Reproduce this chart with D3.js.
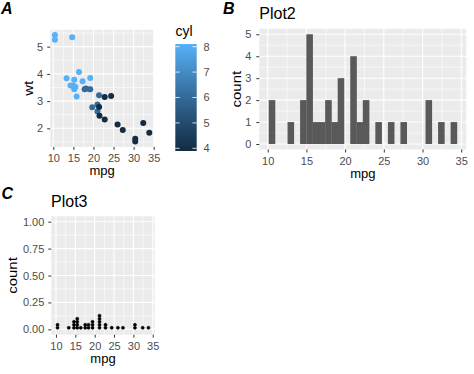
<!DOCTYPE html>
<html><head><meta charset="utf-8">
<script src="https://cdn.jsdelivr.net/npm/d3@7"></script>
<style>
body{margin:0;background:#fff;}
text{font-family:"Liberation Sans",Arial,sans-serif;}
</style></head>
<body><svg id="c" width="474" height="374"></svg>
<script>
// ---- data (mtcars) ----
const mpg = [21.0,21.0,22.8,21.4,18.7,18.1,14.3,24.4,22.8,19.2,17.8,16.4,17.3,15.2,10.4,10.4,14.7,32.4,30.4,33.9,21.5,15.5,15.2,13.3,19.2,27.3,26.0,30.4,15.8,19.7,15.0,21.4];
const wt  = [2.620,2.875,2.320,3.215,3.440,3.460,3.570,3.190,3.150,3.440,3.440,4.070,3.730,3.780,5.250,5.424,5.345,2.200,1.615,1.835,2.465,3.520,3.435,3.840,3.845,1.935,2.140,1.513,3.170,2.770,3.570,2.780];
const cyl = [6,6,4,6,8,6,8,4,4,6,6,8,8,8,8,8,8,4,4,4,4,8,8,8,8,4,4,4,8,6,8,4];
// histogram (30 bins)
const histStart = 10.129;
const histWidth = 0.81034;
const histCounts = [2,0,0,1,0,2,5,1,1,2,1,3,0,4,1,2,0,1,0,1,0,1,0,0,0,2,0,1,0,1];
// dotplot bins
const dotBinwidth = 0.78333;
const dotCenters = [10.4,13.3,14.65,15.5,16.4,17.55,18.4,19.45,21.25,22.8,24.4,26.0,27.3,30.4,32.4,33.9];
const dotCounts  = [2,1,3,4,1,2,2,3,5,2,1,1,1,2,1,1];
// ticks
const mpgTicks = [10,15,20,25,30,35];
const wtTicks = [2,3,4,5];
const countTicks = [0,1,2,3,4,5];
const dotTicks = [0,0.25,0.5,0.75,1];
const dotTickLabels = ["0.00","0.25","0.50","0.75","1.00"];
const cylTicks = [4,5,6,7,8];

const svg = d3.select("#c");
const FONT_TICK = 11, FONT_AX = 13, FONT_AXV = 15, FONT_TITLE = 16, FONT_TAG = 16;

function panel(opt){
  const g = svg.append("g");
  const x = d3.scaleLinear().domain(opt.xd).range([opt.x0, opt.x1]);
  const y = d3.scaleLinear().domain(opt.yd).range([opt.y1, opt.y0]);
  g.append("rect").attr("x",opt.x0).attr("y",opt.y0).attr("width",opt.x1-opt.x0).attr("height",opt.y1-opt.y0).attr("fill","#EBEBEB");
  opt.xminor.forEach(v=>{ if(v>opt.xd[0]&&v<opt.xd[1]) g.append("line").attr("x1",x(v)).attr("x2",x(v)).attr("y1",opt.y0).attr("y2",opt.y1).attr("stroke","#fff").attr("stroke-width",0.55);});
  opt.yminor.forEach(v=>{ if(v>opt.yd[0]&&v<opt.yd[1]) g.append("line").attr("y1",y(v)).attr("y2",y(v)).attr("x1",opt.x0).attr("x2",opt.x1).attr("stroke","#fff").attr("stroke-width",0.55);});
  opt.xticks.forEach(v=>{ g.append("line").attr("x1",x(v)).attr("x2",x(v)).attr("y1",opt.y0).attr("y2",opt.y1).attr("stroke","#fff").attr("stroke-width",1.1);});
  opt.yticks.forEach(v=>{ g.append("line").attr("y1",y(v)).attr("y2",y(v)).attr("x1",opt.x0).attr("x2",opt.x1).attr("stroke","#fff").attr("stroke-width",1.1);});
  const xa = d3.axisBottom(x).tickValues(opt.xticks).tickSize(3).tickPadding(2).tickFormat(d3.format("d"));
  const gx = g.append("g").attr("transform",`translate(0,${opt.y1})`).call(xa);
  gx.select(".domain").remove();
  gx.selectAll(".tick line").attr("stroke","#333").attr("stroke-width",1);
  gx.selectAll(".tick text").attr("fill","#4D4D4D").attr("font-size",FONT_TICK).attr("font-family","Liberation Sans, Arial, sans-serif").attr("dy",null).attr("y",15);
  const ya = d3.axisLeft(y).tickValues(opt.yticks).tickSize(3).tickPadding(opt.ypad);
  if(opt.ylabels) ya.tickFormat((d,i)=>opt.ylabels[i]); else ya.tickFormat(d3.format("d"));
  const gy = g.append("g").attr("transform",`translate(${opt.x0},0)`).call(ya);
  gy.select(".domain").remove();
  gy.selectAll(".tick line").attr("stroke","#333").attr("stroke-width",1);
  gy.selectAll(".tick text").attr("fill","#4D4D4D").attr("font-size",FONT_TICK).attr("font-family","Liberation Sans, Arial, sans-serif");
  g.append("text").attr("x",(opt.x0+opt.x1)/2).attr("y",opt.y1+28).attr("text-anchor","middle").attr("font-size",FONT_AX).attr("fill","#000").text(opt.xlab);
  g.append("text").attr("transform",`translate(${opt.ylabX},${(opt.y0+opt.y1)/2}) rotate(-90) scale(1,0.85)`).attr("text-anchor","middle").attr("font-size",FONT_AXV).attr("fill","#000").text(opt.ylab);
  return {g,x,y};
}

// ---- Plot A ----
const A = panel({x0:50.2,x1:154.0,y0:29.8,y1:146.9,xd:[9.225,35.075],yd:[1.3175,5.6195],
  xticks:mpgTicks,yticks:wtTicks,xminor:[7.5,12.5,17.5,22.5,27.5,32.5],yminor:[1.5,2.5,3.5,4.5,5.5],
  ypad:4,xlab:"mpg",ylab:"wt",ylabX:33});
const col = d3.scaleLinear().domain([4,8]).range(["#132B43","#56B1F7"]).interpolate(d3.interpolateLab);
A.g.selectAll("circle.pt").data(mpg.map((m,i)=>({m,w:wt[i],c:cyl[i]}))).join("circle")
  .attr("cx",d=>A.x(d.m)).attr("cy",d=>A.y(d.w)).attr("r",3).attr("fill",d=>col(d.c));

// legend
const lg = svg.append("g");
const bx0=175.3, bw=21.4, by0=44, bh=107;
const grad = svg.append("defs").append("linearGradient").attr("id","cb").attr("x1",0).attr("y1",1).attr("x2",0).attr("y2",0);
d3.range(0,1.0001,0.1).forEach(t=>grad.append("stop").attr("offset",t).attr("stop-color",col(4+4*t)));
lg.append("rect").attr("x",bx0).attr("y",by0).attr("width",bw).attr("height",bh).attr("fill","url(#cb)");
const inset = bh*0.5/20;
const ly = d3.scaleLinear().domain([4,8]).range([by0+bh-inset, by0+inset]);
cylTicks.forEach(v=>{
  lg.append("line").attr("x1",bx0).attr("x2",bx0+bw/5).attr("y1",ly(v)).attr("y2",ly(v)).attr("stroke","#fff").attr("stroke-width",0.8);
  lg.append("line").attr("x1",bx0+bw*4/5).attr("x2",bx0+bw).attr("y1",ly(v)).attr("y2",ly(v)).attr("stroke","#fff").attr("stroke-width",0.8);
  lg.append("text").attr("x",203.5).attr("y",ly(v)).attr("dy","0.35em").attr("font-size",FONT_TICK).attr("fill","#4D4D4D").text(v);
});
lg.append("text").attr("x",175.5).attr("y",36).attr("font-size",FONT_AX+1).attr("fill","#000").text("cyl");

// ---- Plot B ----
const B = panel({x0:259.3,x1:466.3,y0:28.8,y1:149.5,xd:[8.913,35.655],yd:[-0.25,5.25],
  xticks:mpgTicks,yticks:countTicks,xminor:[7.5,12.5,17.5,22.5,27.5,32.5],yminor:[0.5,1.5,2.5,3.5,4.5],
  ypad:5,xlab:"mpg",ylab:"count",ylabX:240.5});
B.g.selectAll("rect.bar").data(histCounts.map((c,i)=>({c,i}))).join("rect")
  .attr("x",d=>B.x(histStart+d.i*histWidth)).attr("width",d=>B.x(histStart+(d.i+1)*histWidth)-B.x(histStart+d.i*histWidth)+0.3)
  .attr("y",d=>B.y(d.c)).attr("height",d=>B.y(0)-B.y(d.c)).attr("fill","#595959");
svg.append("text").attr("x",259.3).attr("y",18.5).attr("font-size",FONT_TITLE).attr("fill","#000").text("Plot2");

// ---- Plot C ----
const C = panel({x0:51.3,x1:154.7,y0:216.3,y1:334.7,xd:[8.794,35.506],yd:[-0.05,1.05],
  xticks:mpgTicks,yticks:dotTicks,ylabels:dotTickLabels,xminor:[7.5,12.5,17.5,22.5,27.5,32.5],yminor:[0.125,0.375,0.625,0.875],
  ypad:4,xlab:"mpg",ylab:"count",ylabX:16.5});
const dpx = C.x(dotBinwidth)-C.x(0);
const dots = [];
dotCenters.forEach((c,i)=>{ for(let k=0;k<dotCounts[i];k++) dots.push({c,k}); });
C.g.selectAll("circle.dot").data(dots).join("circle")
  .attr("cx",d=>C.x(d.c)).attr("cy",d=>C.y(0)-(d.k+0.5)*dpx).attr("r",dpx/2)
  .attr("fill","#000").attr("stroke","#000").attr("stroke-width",0.6);
svg.append("text").attr("x",51).attr("y",206.5).attr("font-size",FONT_TITLE).attr("fill","#000").text("Plot3");

// tags
[["A",1,13.5],["B",223,14],["C",1.5,199]].forEach(t=>{
  svg.append("text").attr("x",t[1]).attr("y",t[2]).attr("font-size",FONT_TAG).attr("font-weight","bold").attr("font-style","italic").attr("fill","#000").text(t[0]);
});
</script></body></html>
